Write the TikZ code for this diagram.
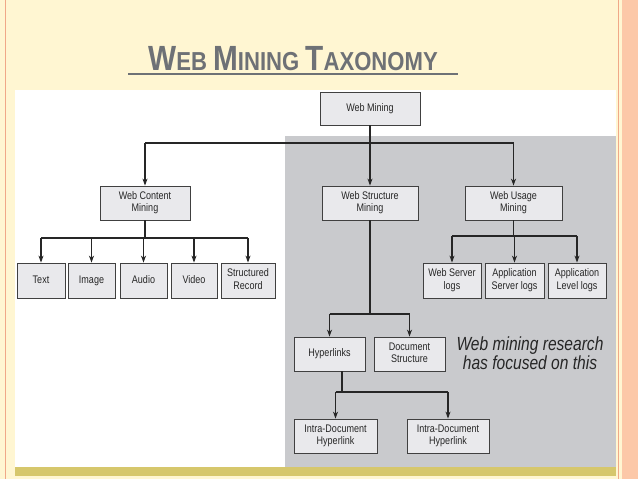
\documentclass[tikz,border=0pt]{standalone}
\usepackage{fontspec}
\setmainfont{Liberation Sans}
\usetikzlibrary{arrows.meta}
\definecolor{cream}{HTML}{FFF6D2}
\definecolor{peach}{HTML}{FCC8A8}
\definecolor{edge}{HTML}{F0A888}
\definecolor{olive}{HTML}{D6C76C}
\definecolor{panelgray}{HTML}{C9CACD}
\definecolor{boxgray}{HTML}{E9E9EC}
\definecolor{titlegray}{HTML}{6E7176}
\tikzset{
  tbox/.style={draw=black!75,line width=0.8pt,fill=boxgray,inner sep=0pt,align=center,
    font=\fontsize{11}{12.5}\selectfont,text=black!85},
  conn/.style={line width=1.3pt,draw=black!85},
  arr/.style={conn,-{Stealth[length=7pt,width=5pt]}}
}
\newcommand{\bx}[6]{\node[tbox,minimum width=#4-#2,minimum height=#5-#3] (#1) at ({(#2+#4)/2},{(#3+#5)/2}) {\scalebox{0.82}[1]{\begin{tabular}{@{}c@{}}#6\end{tabular}}};}
\begin{document}
\begin{tikzpicture}[x=1pt,y=-1pt]
\useasboundingbox (0,0) rectangle (638,479);
\fill[cream] (0,0) rectangle (638,479);
\fill[peach] (622,0) rectangle (638,479);
\draw[edge,line width=1pt] (618,0) -- (618,479);
\draw[edge,line width=0.8pt] (5,0) -- (5,479);
\fill[olive] (15,467) rectangle (616,476);
\fill[white] (15,90) rectangle (616,467);
\fill[panelgray] (285,136) rectangle (616,467);
\node[text=titlegray,font=\bfseries] (title) at (293,59) {\scalebox{0.85}[1]{\fontsize{35}{38}\selectfont W\fontsize{26}{28}\selectfont EB \fontsize{35}{38}\selectfont M\fontsize{26}{28}\selectfont INING \fontsize{35}{38}\selectfont T\fontsize{26}{28}\selectfont AXONOMY}};
\draw[titlegray,line width=2pt] (128,73.5) -- (458,73.5);
\bx{wm}{320}{92}{420}{125}{Web Mining}
\bx{wc}{100}{186}{190}{220}{Web Content\\Mining}
\bx{ws}{322}{186}{418}{220}{Web Structure\\Mining}
\bx{wu}{465}{186}{562}{220}{Web Usage\\Mining}
\bx{t}{17}{263}{65}{298}{Text}
\bx{im}{68}{263}{115}{298}{Image}
\bx{au}{120}{263}{167}{298}{Audio}
\bx{vi}{171}{263}{217}{298}{Video}
\bx{sr}{221}{263}{275}{298}{Structured\\Record}
\bx{wsl}{423}{263}{481}{298}{Web Server\\logs}
\bx{asl}{485}{263}{544}{298}{Application\\Server logs}
\bx{all}{548}{263}{606}{298}{Application\\Level logs}
\bx{hl}{294}{337}{365}{371}{Hyperlinks}
\bx{ds}{374}{337}{445}{371}{Document\\Structure}
\bx{id1}{294}{419}{377}{453}{Intra-Document\\Hyperlink}
\bx{id2}{407}{419}{489}{453}{Intra-Document\\Hyperlink}
\node[font=\itshape\fontsize{19}{19.5}\selectfont,align=center,text=black!85] (note) at (530,353) {\scalebox{0.82}[1]{Web mining research}\\\scalebox{0.82}[1]{has focused on this}};
% connectors
\draw[conn] (wm.south) -- (wm.south |- 0,143);
\draw[arr] (wc.north |- 0,143) -- (wc.north);
\draw[arr] (ws.north |- 0,143) -- (ws.north);
\draw[arr] (wu.north |- 0,143) -- (wu.north);
\draw[conn] (wc.north |- 0,143) -- (wu.north |- 0,143);
\draw[conn] (wc.south) -- (wc.south |- 0,238);
\draw[conn] (t.north |- 0,238) -- (sr.north |- 0,238);
\foreach \n in {t,im,au,vi,sr} \draw[arr] (\n.north |- 0,238) -- (\n.north);
\draw[conn] (wu.south) -- (wu.south |- 0,236);
\draw[conn] (wsl.north |- 0,236) -- (all.north |- 0,236);
\foreach \n in {wsl,asl,all} \draw[arr] (\n.north |- 0,236) -- (\n.north);
\draw[conn] (ws.south) -- (ws.south |- 0,314);
\draw[conn] (hl.north |- 0,314) -- (ds.north |- 0,314);
\foreach \n in {hl,ds} \draw[arr] (\n.north |- 0,314) -- (\n.north);
\coordinate (hb) at (342,392);
\draw[conn] (342,371) -- (hb);
\draw[conn] (id1.north |- hb) -- (id2.north |- hb);
\foreach \n in {id1,id2} \draw[arr] (\n.north |- hb) -- (\n.north);
\end{tikzpicture}
\end{document}
